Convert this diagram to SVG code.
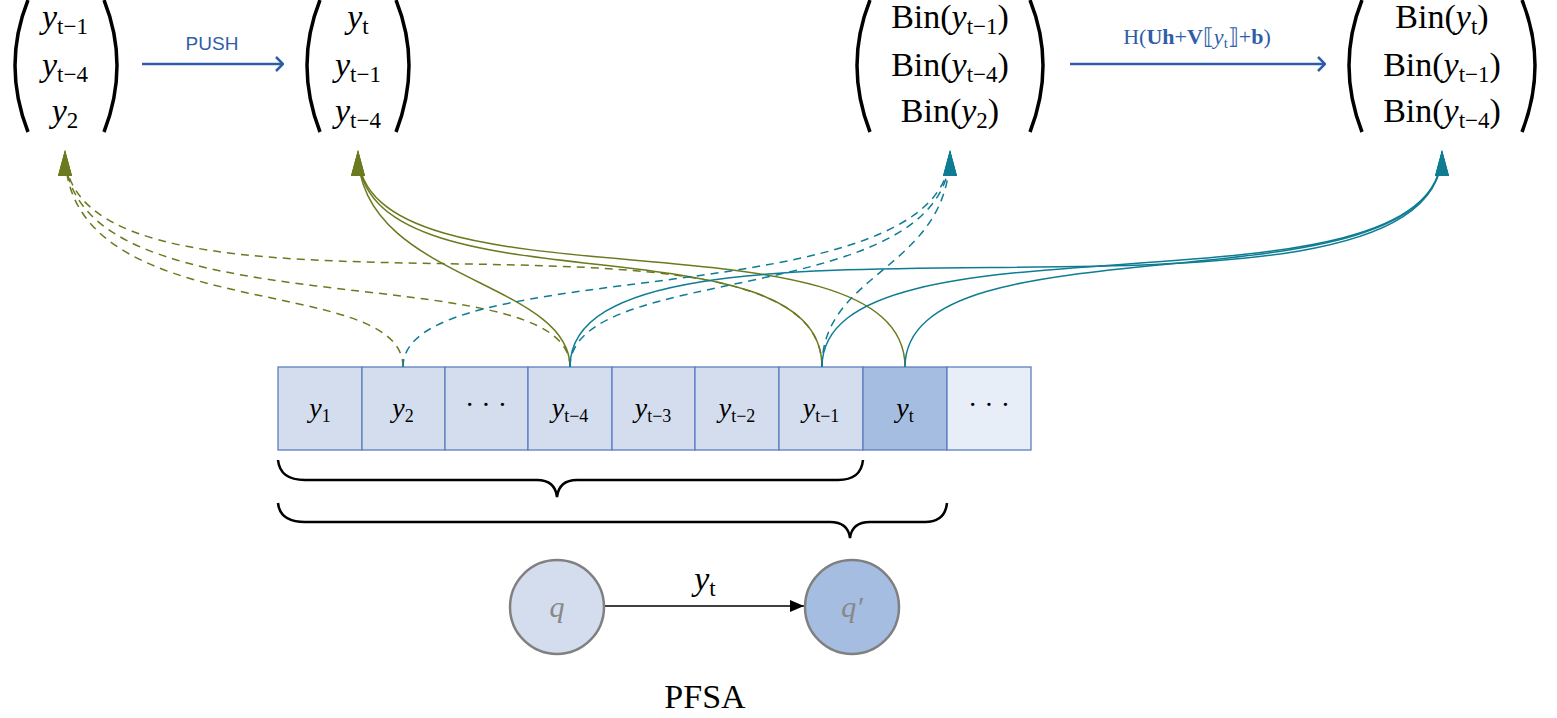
<svg xmlns="http://www.w3.org/2000/svg" width="1557" height="718" viewBox="0 0 1557 718">
<style>
.m{font-family:"Liberation Serif",serif;font-size:34px;fill:#000;text-anchor:middle}
.i{font-style:italic}
.s{font-size:23px}
.paren{fill:none;stroke:#000;stroke-width:3.5}
.cell{fill:#d3ddee;stroke:#5b7fbf;stroke-width:1.3}
.ol{fill:none;stroke:#6b7a1e;stroke-width:1.5}
.te{fill:none;stroke:#0e7c93;stroke-width:1.5}
.d{stroke-dasharray:8 6}
.brace{fill:none;stroke:#000;stroke-width:2.5}
</style>
<defs>
<marker id="ao" markerWidth="26" markerHeight="14" refX="24" refY="7" orient="auto" markerUnits="userSpaceOnUse" viewBox="0 0 26 14"><path d="M0,0 L26,7 L0,14Z" fill="#6b7a1e"/></marker>
<marker id="at" markerWidth="26" markerHeight="14" refX="24" refY="7" orient="auto" markerUnits="userSpaceOnUse" viewBox="0 0 26 14"><path d="M0,0 L26,7 L0,14Z" fill="#0e7c93"/></marker>
<marker id="ab" markerWidth="12" markerHeight="16" refX="11" refY="8" orient="auto" markerUnits="userSpaceOnUse"><path d="M4,1 L11,8 L4,15" fill="none" stroke="#2f5ea8" stroke-width="2.5"/></marker>
<marker id="ak" markerWidth="14" markerHeight="12" refX="14" refY="6" orient="auto" markerUnits="userSpaceOnUse"><path d="M0,0 L14,6 L0,12Z" fill="#000"/></marker>
</defs>

<g id="vec1">
<path class="paren" d="M28,0 Q2,65 28,132"/><path class="paren" d="M104,0 Q130,65 104,132"/>
<text class="m" x="65" y="28"><tspan class="i">y</tspan><tspan class="s" dy="6">t−1</tspan></text>
<text class="m" x="65" y="76"><tspan class="i">y</tspan><tspan class="s" dy="6">t−4</tspan></text>
<text class="m" x="65" y="122"><tspan class="i">y</tspan><tspan class="s" dy="6">2</tspan></text>
</g>
<g id="vec2">
<path class="paren" d="M320,0 Q294,65 320,132"/><path class="paren" d="M396,0 Q422,65 396,132"/>
<text class="m" x="358" y="28"><tspan class="i">y</tspan><tspan class="s" dy="6">t</tspan></text>
<text class="m" x="358" y="76"><tspan class="i">y</tspan><tspan class="s" dy="6">t−1</tspan></text>
<text class="m" x="358" y="122"><tspan class="i">y</tspan><tspan class="s" dy="6">t−4</tspan></text>
</g>
<g id="vec3">
<path class="paren" d="M870,0 Q844,65 870,132"/><path class="paren" d="M1030,0 Q1056,65 1030,132"/>
<text class="m" x="950" y="28">Bin(<tspan class="i">y</tspan><tspan class="s" dy="6">t−1</tspan><tspan dy="-6">)</tspan></text>
<text class="m" x="950" y="76">Bin(<tspan class="i">y</tspan><tspan class="s" dy="6">t−4</tspan><tspan dy="-6">)</tspan></text>
<text class="m" x="950" y="122">Bin(<tspan class="i">y</tspan><tspan class="s" dy="6">2</tspan><tspan dy="-6">)</tspan></text>
</g>
<g id="vec4">
<path class="paren" d="M1362,0 Q1336,65 1362,132"/><path class="paren" d="M1522,0 Q1548,65 1522,132"/>
<text class="m" x="1442" y="28">Bin(<tspan class="i">y</tspan><tspan class="s" dy="6">t</tspan><tspan dy="-6">)</tspan></text>
<text class="m" x="1442" y="76">Bin(<tspan class="i">y</tspan><tspan class="s" dy="6">t−1</tspan><tspan dy="-6">)</tspan></text>
<text class="m" x="1442" y="122">Bin(<tspan class="i">y</tspan><tspan class="s" dy="6">t−4</tspan><tspan dy="-6">)</tspan></text>
</g>

<g id="tape">
<rect class="cell" x="278" y="367" width="84" height="83"/>
<rect class="cell" x="362" y="367" width="83" height="83"/>
<rect class="cell" x="445" y="367" width="83" height="83"/>
<rect class="cell" x="528" y="367" width="84" height="83"/>
<rect class="cell" x="612" y="367" width="83" height="83"/>
<rect class="cell" x="695" y="367" width="84" height="83"/>
<rect class="cell" x="779" y="367" width="84" height="83"/>
<rect class="cell" x="863" y="367" width="84" height="83" style="fill:#a5bde0"/>
<rect class="cell" x="947" y="367" width="84" height="83" style="fill:#e8eef7"/>
<g class="m" style="font-size:28px">
<text x="320" y="417"><tspan class="i">y</tspan><tspan style="font-size:18px" dy="5">1</tspan></text>
<text x="403" y="417"><tspan class="i">y</tspan><tspan style="font-size:18px" dy="5">2</tspan></text>
<text x="486" y="414">· · ·</text>
<text x="570" y="417"><tspan class="i">y</tspan><tspan style="font-size:18px" dy="5">t−4</tspan></text>
<text x="653" y="417"><tspan class="i">y</tspan><tspan style="font-size:18px" dy="5">t−3</tspan></text>
<text x="737" y="417"><tspan class="i">y</tspan><tspan style="font-size:18px" dy="5">t−2</tspan></text>
<text x="821" y="417"><tspan class="i">y</tspan><tspan style="font-size:18px" dy="5">t−1</tspan></text>
<text x="905" y="417"><tspan class="i">y</tspan><tspan style="font-size:18px" dy="5">t</tspan></text>
<text x="989" y="414">· · ·</text>
</g>
</g>

<g id="connectors">
<path class="ol d" d="M403,367 C403,270 65,330 65,152" marker-end="url(#ao)"/>
<path class="ol d" d="M570,367 C570,250 65,340 65,152" marker-end="url(#ao)"/>
<path class="ol d" d="M822,367 C822,170 65,360 65,152" marker-end="url(#ao)"/>
<path class="ol" d="M570,367 C570,280 358,280 358,152" marker-end="url(#ao)"/>
<path class="ol" d="M822,367 C822,210 358,320 358,152" marker-end="url(#ao)"/>
<path class="ol" d="M905,367 C905,200 358,320 358,152" marker-end="url(#ao)"/>
<path class="te d" d="M403,367 C403,250 950,320 950,152" marker-end="url(#at)"/>
<path class="te d" d="M570,367 C570,260 950,310 950,152" marker-end="url(#at)"/>
<path class="te d" d="M822,367 C822,270 950,270 950,152" marker-end="url(#at)"/>
<path class="te" d="M570,367 C570,170 1442,370 1442,152" marker-end="url(#at)"/>
<path class="te" d="M822,367 C822,200 1442,330 1442,152" marker-end="url(#at)"/>
<path class="te" d="M905,367 C905,210 1442,320 1442,152" marker-end="url(#at)"/>
<line x1="142" y1="64" x2="283" y2="64" stroke="#2f5ea8" stroke-width="2.5" marker-end="url(#ab)"/>
<line x1="1070" y1="64" x2="1325" y2="64" stroke="#2f5ea8" stroke-width="2.5" marker-end="url(#ab)"/>
<line x1="604" y1="606" x2="804" y2="606" stroke="#000" stroke-width="1.5" marker-end="url(#ak)"/>
</g>
<text x="212" y="50" style="font-family:'Liberation Sans',sans-serif;font-size:19px;fill:#2f5ea8;text-anchor:middle">PUSH</text>
<text x="1197" y="44" style="font-family:'Liberation Serif',serif;font-size:22px;fill:#2f5ea8;text-anchor:middle">H(<tspan font-weight="bold">Uh</tspan>+<tspan font-weight="bold">V</tspan>⟦<tspan font-style="italic">y</tspan><tspan font-size="15" dy="4">t</tspan><tspan dy="-4">⟧+</tspan><tspan font-weight="bold">b</tspan>)</text>

<g id="braces">
<path class="brace" d="M278,460 Q280,480 305,480 L537,480 Q555,480 557,497 Q559,480 577,480 L838,480 Q861,480 863,460"/>
<path class="brace" d="M278,503 Q280,522 305,522 L830,522 Q848,522 850,538 Q852,522 870,522 L925,522 Q945,522 947,503"/>
</g>

<g id="q"><circle cx="557" cy="607" r="47" fill="#d3ddee" stroke="#808080" stroke-width="2.5"/><text class="m i" x="557" y="617" style="fill:#888;font-size:30px">q</text></g>
<g id="qp"><circle cx="852" cy="607" r="47" fill="#a5bde0" stroke="#808080" stroke-width="2.5"/><text class="m i" x="852" y="617" style="fill:#888;font-size:30px">q′</text></g>
<text class="m" x="705" y="590"><tspan class="i">y</tspan><tspan class="s" dy="6">t</tspan></text>
<text class="m" x="705" y="708" style="font-size:34px">PFSA</text>
</svg>
